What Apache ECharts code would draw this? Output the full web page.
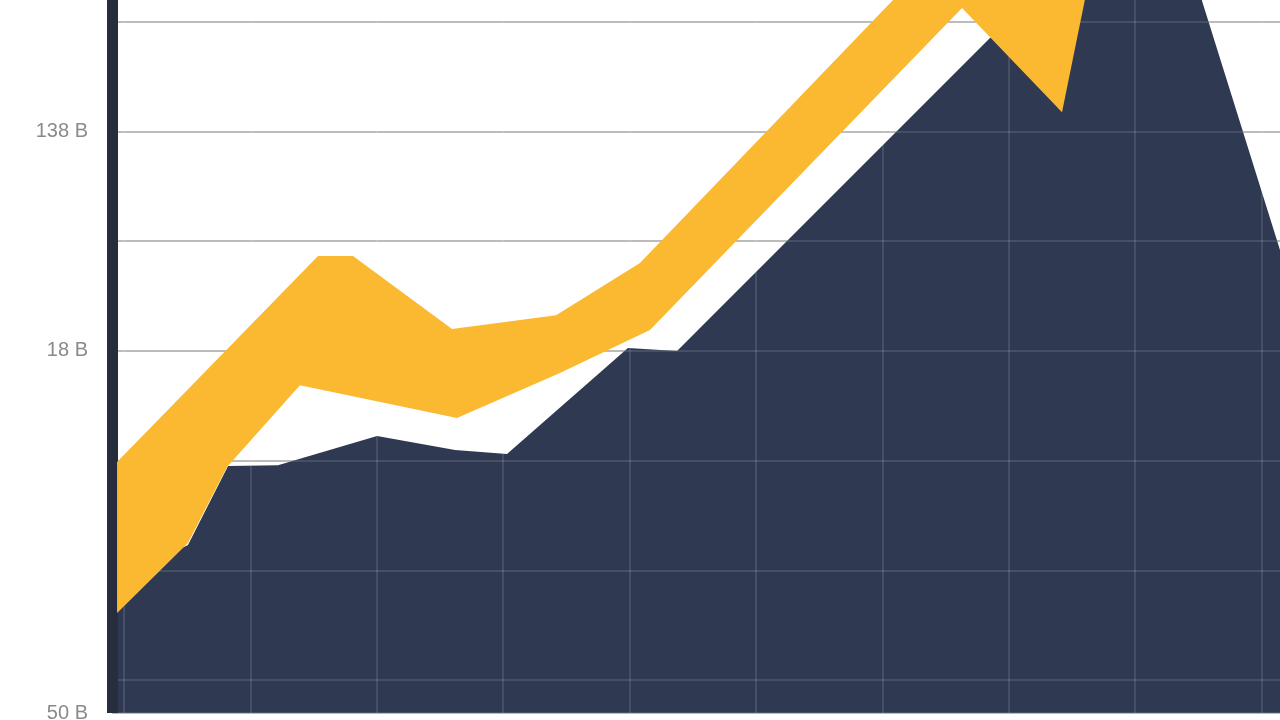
<!DOCTYPE html>
<html>
<head>
<meta charset="utf-8">
<style>
  html, body { margin: 0; padding: 0; background: #ffffff; }
  #chart { width: 1280px; height: 720px; }
</style>
<script src="https://cdn.jsdelivr.net/npm/echarts@6/dist/echarts.min.js"></script>
</head>
<body>
<div id="chart"></div>
<script>
// ---- data (axis units) ----
// dark area: top edge vertices
const darkX = [-0.055, 0.443, 0.506, 0.823, 1.218, 2.002, 2.619, 3.030, 3.987, 4.375, 6.851, 8.378, 9.146, 9.383];
const darkY = [0.620, 1.194, 1.230, 1.950, 1.959, 2.224, 2.096, 2.060, 3.026, 2.998, 5.851, 6.744, 3.919, 3.044];

// yellow band: upper edge and lower edge vertices (left to right)
const bandUpperX = [-0.055, 1.535, 1.812, 2.595, 3.418, 4.082, 6.084, 6.543, 7.698];
const bandUpperY = [1.987, 3.864, 3.864, 3.199, 3.326, 3.800, 6.197, 6.744, 6.744];
const bandLowerX = [-0.055, 0.506, 0.815, 1.392, 2.634, 3.449, 4.161, 6.630, 7.421];
const bandLowerY = [0.611, 1.249, 1.941, 2.688, 2.388, 2.798, 3.190, 6.124, 5.176];

// y tick labels
const yLabelValues = [-0.3, 3, 5];
const yLabelTexts = ['50 B', '18 B', '138 B'];

const darkData = darkX.map((x, i) => [x, darkY[i]]);

const chart = echarts.init(document.getElementById('chart'));

function labelFor(v) {
  for (let i = 0; i < yLabelValues.length; i++) {
    if (Math.abs(v - yLabelValues[i]) < 1e-6) return yLabelTexts[i];
  }
  return '';
}

const overlayLine = { show: true, lineStyle: { color: 'rgba(255,255,255,0.11)', width: 2 } };
const yScale = { type: 'value', min: -0.3, max: 7, minInterval: 1, maxInterval: 1, splitNumber: 7 };
const xScale = { type: 'value', min: -0.095, max: 10, minInterval: 1, maxInterval: 1, splitNumber: 10 };
const hidden = { axisTick: { show: false }, axisLabel: { show: false } };

const option = {
  backgroundColor: '#ffffff',
  animation: false,
  grid: {
    left: 112, right: -108, top: -88, bottom: 7,
    containLabel: false,
    outerBoundsMode: 'none'
  },
  xAxis: [
    Object.assign({}, xScale, hidden, {
      axisLine: { show: false, onZero: false },
      splitLine: { show: false }
    }),
    Object.assign({}, xScale, hidden, {
      position: 'top', z: 3,
      axisLine: { show: false, onZero: false },
      splitLine: overlayLine
    })
  ],
  yAxis: [
    Object.assign({}, yScale, {
      axisLine: { show: false, onZero: false },
      axisTick: { show: false },
      axisLabel: {
        show: true, margin: 24,
        color: '#8a8a8a', fontSize: 20, fontFamily: 'Liberation Sans',
        formatter: (v) => labelFor(v)
      },
      splitLine: { show: true, lineStyle: { color: '#b4b4b4', width: 2 } }
    }),
    Object.assign({}, yScale, hidden, {
      position: 'right', z: 3,
      axisLine: { show: false, onZero: false },
      splitLine: overlayLine
    }),
    Object.assign({}, yScale, hidden, {
      position: 'left', z: 4,
      axisLine: { show: true, onZero: false, lineStyle: { color: '#262d3d', width: 11, cap: 'butt' } },
      splitLine: { show: false }
    })
  ],
  series: [
    {
      type: 'line',
      xAxisIndex: 0, yAxisIndex: 0,
      data: darkData,
      symbol: 'none',
      clip: false,
      z: 2,
      lineStyle: { width: 0 },
      areaStyle: { color: '#2f3a52', opacity: 1, origin: 'start' },
      silent: true
    },
    {
      type: 'custom',
      xAxisIndex: 0, yAxisIndex: 0,
      clip: false,
      z: 5,
      silent: true,
      data: [[0, 0]],
      renderItem: function (params, api) {
        if (params.dataIndex !== 0) return null;
        const pts = [];
        for (let i = 0; i < bandUpperX.length; i++) pts.push(api.coord([bandUpperX[i], bandUpperY[i]]));
        for (let i = bandLowerX.length - 1; i >= 0; i--) pts.push(api.coord([bandLowerX[i], bandLowerY[i]]));
        return {
          type: 'polygon',
          shape: { points: pts },
          style: { fill: '#fbb931', stroke: null }
        };
      }
    }
  ]
};

chart.setOption(option);
</script>
</body>
</html>
